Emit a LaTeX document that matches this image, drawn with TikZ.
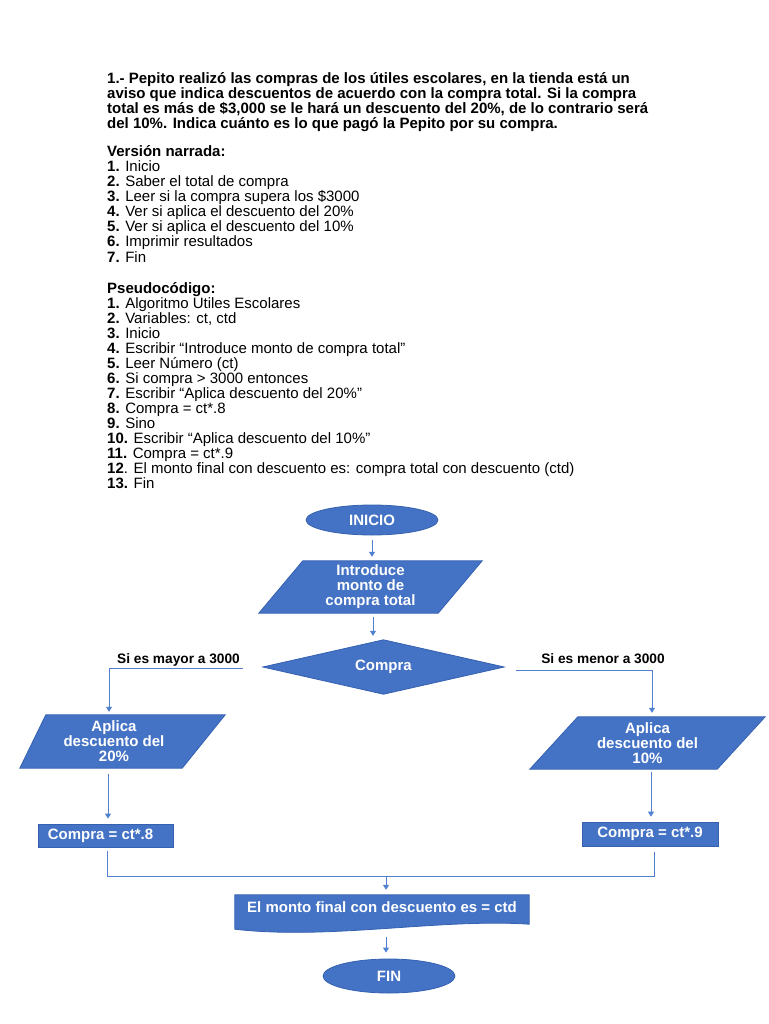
\documentclass[tikz,border=0pt]{standalone}
\usepackage{fontspec}
\setmainfont{Liberation Sans}
\usetikzlibrary{arrows.meta,shapes.geometric,backgrounds}
\definecolor{fcblue}{HTML}{4472C4}
\definecolor{fcedge}{HTML}{3561B0}
\definecolor{lnblue}{HTML}{5081D0}
\tikzset{
  shp/.style={fill=fcblue, draw=fcedge, line width=0.8pt},
  lbl/.style={text=white, font=\bfseries\fontsize{15}{15}\selectfont, align=center, inner sep=0pt},
  conn/.style={draw=lnblue, line width=1pt},
  arr/.style={conn, -{Triangle[width=6pt,length=5pt]}},
  txt/.style={anchor=base west, inner sep=0pt, font=\fontsize{15}{15}\selectfont},
  side/.style={anchor=base, inner sep=0pt, font=\bfseries\fontsize{13.7}{15}\selectfont},
}
\begin{document}
\begin{tikzpicture}[x=1pt,y=-1pt]
\useasboundingbox (0,0) rectangle (768,1024);
% ---- header text
\node[txt, font=\bfseries\fontsize{15}{15}\selectfont] (h1) at (107,84) {1.- Pepito realizó las compras de los útiles escolares, en la tienda está un};
\node[txt, font=\bfseries\fontsize{15}{15}\selectfont] (h2) at (107,99) {aviso que indica descuentos de acuerdo con la compra total. Si la compra};
\node[txt, font=\bfseries\fontsize{15}{15}\selectfont] (h3) at (107,114) {total es más de \$3,000 se le hará un descuento del 20\%, de lo contrario será};
\node[txt, font=\bfseries\fontsize{15}{15}\selectfont] (h4) at (107,129) {del 10\%. Indica cuánto es lo que pagó la Pepito por su compra.};
\node[txt, font=\bfseries\fontsize{15}{15}\selectfont] (vn) at (107,157) {Versión narrada:};
\node[txt] (n1) at (107,172) {\textbf{1.} Inicio};
\node[txt] (n2) at (107,187) {\textbf{2.} Saber el total de compra};
\node[txt] (n3) at (107,202) {\textbf{3.} Leer si la compra supera los \$3000};
\node[txt] (n4) at (107,217) {\textbf{4.} Ver si aplica el descuento del 20\%};
\node[txt] (n5) at (107,232) {\textbf{5.} Ver si aplica el descuento del 10\%};
\node[txt] (n6) at (107,247) {\textbf{6.} Imprimir resultados};
\node[txt] (n7) at (107,262) {\textbf{7.} Fin};
\node[txt, font=\bfseries\fontsize{15}{15}\selectfont] (ps) at (107,293) {Pseudocódigo:};
\node[txt] (p1) at (107,308) {\textbf{1.} Algoritmo Utiles Escolares};
\node[txt] (p2) at (107,323) {\textbf{2.} Variables: ct, ctd};
\node[txt] (p3) at (107,338) {\textbf{3.} Inicio};
\node[txt] (p4) at (107,353) {\textbf{4.} Escribir “Introduce monto de compra total”};
\node[txt] (p5) at (107,368) {\textbf{5.} Leer Número (ct)};
\node[txt] (p6) at (107,383) {\textbf{6.} Si compra > 3000 entonces};
\node[txt] (p7) at (107,398) {\textbf{7.} Escribir “Aplica descuento del 20\%”};
\node[txt] (p8) at (107,413) {\textbf{8.} Compra = ct*.8};
\node[txt] (p9) at (107,428) {\textbf{9.} Sino};
\node[txt] (p10) at (107,443) {\textbf{10.} Escribir “Aplica descuento del 10\%”};
\node[txt] (p11) at (107,458) {\textbf{11.} Compra = ct*.9};
\node[txt] (p12) at (107,473) {\textbf{12}. El monto final con descuento es: compra total con descuento (ctd)};
\node[txt] (p13) at (107,488) {\textbf{13.} Fin};
% ---- flowchart nodes
\node[lbl, shp, ellipse, minimum width=132pt, minimum height=30pt] (inicio) at (372,520) {INICIO};
\node[lbl, minimum width=223pt, minimum height=52pt] (intro) at (370.5,587) {Introduce\\monto de\\compra total};
\node[lbl, minimum width=241pt, minimum height=54pt] (dia) at (383.5,667) {Compra};
\node[lbl, minimum width=222pt, minimum height=53pt] (ap20) at (114,741.5) {Aplica\\descuento del\\20\%};
\node[lbl, minimum width=235pt, minimum height=52pt] (ap10) at (647.5,743) {Aplica\\descuento del\\10\%};
\node[lbl, shp, rectangle, minimum width=135pt, minimum height=23pt] (c8) at (105.5,835.5) {\hspace*{-10pt}Compra = ct*.8};
\node[lbl, shp, rectangle, minimum width=136pt, minimum height=24pt] (c9) at (650,834) {Compra = ct*.9};
\node[lbl, minimum width=294pt, minimum height=34pt] (final) at (382,912) {\raisebox{5pt}[\height][\depth]{El monto final con descuento es = ctd}};
\node[lbl, shp, ellipse, minimum width=132pt, minimum height=34pt] (fin) at (389,976) {FIN};
\node[side] (lblL) at (178.5,663) {Si es mayor a 3000};
\node[side] (lblR) at (603,663) {Si es menor a 3000};
\coordinate (mj) at (386,876);
% ---- shapes behind text
\begin{scope}[on background layer]
\draw[shp] (intro.south west) -- ([xshift=44pt]intro.north west) -- (intro.north east) -- ([xshift=-44pt]intro.south east) -- cycle;
\draw[shp] (dia.west) -- (dia.north) -- (dia.east) -- (dia.south) -- cycle;
\draw[shp] ([xshift=17pt]ap20.south west) -- ([xshift=43pt]ap20.north west) -- (ap20.north east) -- ([xshift=-43pt]ap20.south east) -- cycle;
\draw[shp] (ap10.south west) -- ([xshift=48pt]ap10.north west) -- (ap10.north east) -- ([xshift=-48pt]ap10.south east) -- cycle;
\draw[shp] (final.north west) -- (final.north east) -- ([yshift=5pt]final.south east)
  .. controls ([xshift=-89pt,yshift=11pt]final.south east) and ([xshift=95pt,yshift=-11pt]final.south west) .. (final.south west) -- cycle;
\end{scope}
% ---- connectors
\draw[arr, shorten <=5pt, shorten >=4pt] (inicio.south) -- (inicio.south |- intro.north);
\draw[arr, shorten <=4pt, shorten >=4pt] ([xshift=2.5pt]intro.south) -- ([xshift=2.5pt]intro.south |- dia.north);
\draw[arr, shorten >=3pt] ([xshift=-20pt,yshift=-1pt]dia.west) -| ([xshift=-5pt]ap20.north);
\draw[arr, shorten >=4pt] ([xshift=12pt,yshift=-3pt]dia.east) -| ([xshift=4.5pt]ap10.north);
\draw[arr, shorten <=6pt, shorten >=5pt] ([xshift=-6pt]ap20.south) -- ([xshift=2.5pt]c8.north);
\draw[arr, shorten <=3pt, shorten >=5pt] ([xshift=3.5pt]ap10.south) -- ([xshift=1pt]c9.north);
\draw[conn] ([xshift=1.5pt,yshift=-4pt]c8.south) |- (mj) -| ([xshift=4pt,yshift=-6pt]c9.south);
\draw[arr, shorten >=5pt] (mj) -- ([xshift=4pt]final.north);
\draw[arr, shorten <=8pt, shorten >=6pt] ([xshift=4pt]final.south) -- ([xshift=-3pt]fin.north);
\end{tikzpicture}
\end{document}
